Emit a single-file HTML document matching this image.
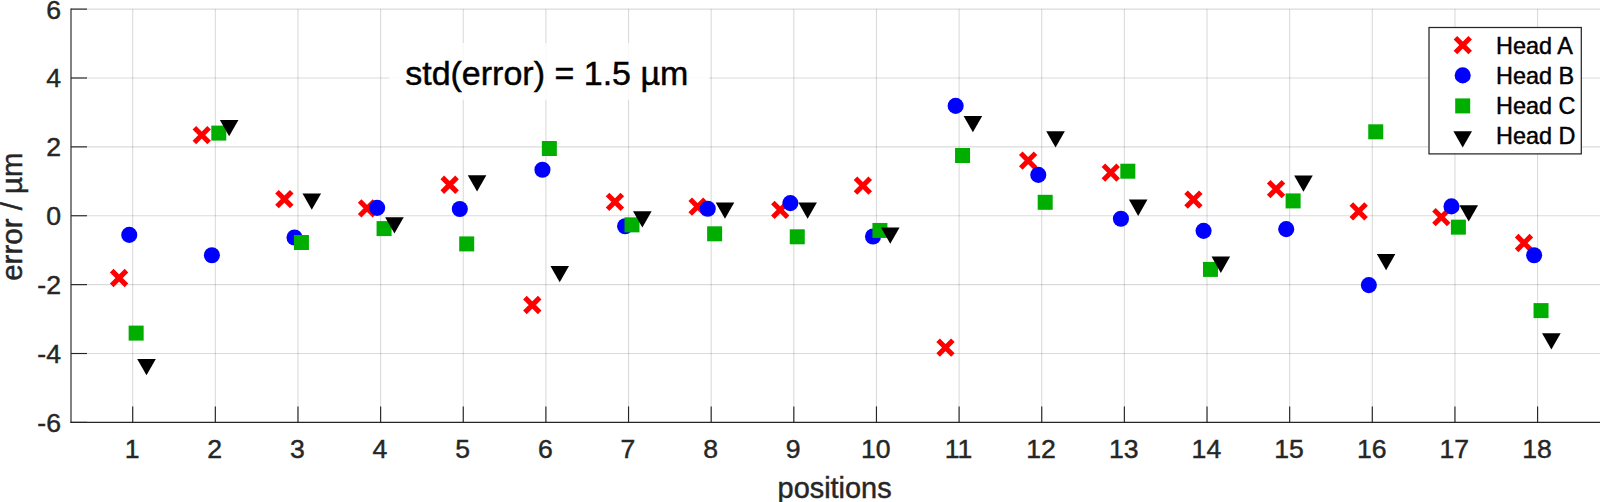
<!DOCTYPE html>
<html><head><meta charset="utf-8"><title>error plot</title>
<style>
html,body{margin:0;padding:0;background:#fff;}
body{width:1600px;height:502px;overflow:hidden;}
svg{display:block;}
text{font-family:"Liberation Sans",Arial,Helvetica,sans-serif;}
</style></head><body>
<svg width="1600" height="502" viewBox="0 0 1600 502">
<rect width="1600" height="502" fill="#fff"/>
<g stroke="#000" stroke-opacity="0.145" stroke-width="1.1" fill="none">
<line x1="132.70" y1="9.1" x2="132.70" y2="422.4"/><line x1="215.34" y1="9.1" x2="215.34" y2="422.4"/><line x1="297.98" y1="9.1" x2="297.98" y2="422.4"/><line x1="380.62" y1="9.1" x2="380.62" y2="422.4"/><line x1="463.26" y1="9.1" x2="463.26" y2="422.4"/><line x1="545.90" y1="9.1" x2="545.90" y2="422.4"/><line x1="628.54" y1="9.1" x2="628.54" y2="422.4"/><line x1="711.18" y1="9.1" x2="711.18" y2="422.4"/><line x1="793.82" y1="9.1" x2="793.82" y2="422.4"/><line x1="876.46" y1="9.1" x2="876.46" y2="422.4"/><line x1="959.10" y1="9.1" x2="959.10" y2="422.4"/><line x1="1041.74" y1="9.1" x2="1041.74" y2="422.4"/><line x1="1124.38" y1="9.1" x2="1124.38" y2="422.4"/><line x1="1207.02" y1="9.1" x2="1207.02" y2="422.4"/><line x1="1289.66" y1="9.1" x2="1289.66" y2="422.4"/><line x1="1372.30" y1="9.1" x2="1372.30" y2="422.4"/><line x1="1454.94" y1="9.1" x2="1454.94" y2="422.4"/><line x1="1537.58" y1="9.1" x2="1537.58" y2="422.4"/>
<line x1="71.0" y1="9.11" x2="1600.0" y2="9.11"/><line x1="71.0" y1="77.99" x2="1600.0" y2="77.99"/><line x1="71.0" y1="146.87" x2="1600.0" y2="146.87"/><line x1="71.0" y1="215.75" x2="1600.0" y2="215.75"/><line x1="71.0" y1="284.63" x2="1600.0" y2="284.63"/><line x1="71.0" y1="353.51" x2="1600.0" y2="353.51"/>
</g>
<rect x="389" y="43" width="320.5" height="57" fill="#fff" fill-opacity="0.8"/>
<g stroke="#262626" stroke-width="1.15" fill="none">
<line x1="71.0" y1="8.5" x2="71.0" y2="423.0"/><line x1="70.4" y1="422.4" x2="1600.0" y2="422.4"/>
<line x1="132.70" y1="422.4" x2="132.70" y2="406.4"/><line x1="215.34" y1="422.4" x2="215.34" y2="406.4"/><line x1="297.98" y1="422.4" x2="297.98" y2="406.4"/><line x1="380.62" y1="422.4" x2="380.62" y2="406.4"/><line x1="463.26" y1="422.4" x2="463.26" y2="406.4"/><line x1="545.90" y1="422.4" x2="545.90" y2="406.4"/><line x1="628.54" y1="422.4" x2="628.54" y2="406.4"/><line x1="711.18" y1="422.4" x2="711.18" y2="406.4"/><line x1="793.82" y1="422.4" x2="793.82" y2="406.4"/><line x1="876.46" y1="422.4" x2="876.46" y2="406.4"/><line x1="959.10" y1="422.4" x2="959.10" y2="406.4"/><line x1="1041.74" y1="422.4" x2="1041.74" y2="406.4"/><line x1="1124.38" y1="422.4" x2="1124.38" y2="406.4"/><line x1="1207.02" y1="422.4" x2="1207.02" y2="406.4"/><line x1="1289.66" y1="422.4" x2="1289.66" y2="406.4"/><line x1="1372.30" y1="422.4" x2="1372.30" y2="406.4"/><line x1="1454.94" y1="422.4" x2="1454.94" y2="406.4"/><line x1="1537.58" y1="422.4" x2="1537.58" y2="406.4"/>
<line x1="71.0" y1="9.11" x2="87.0" y2="9.11"/><line x1="71.0" y1="77.99" x2="87.0" y2="77.99"/><line x1="71.0" y1="146.87" x2="87.0" y2="146.87"/><line x1="71.0" y1="215.75" x2="87.0" y2="215.75"/><line x1="71.0" y1="284.63" x2="87.0" y2="284.63"/><line x1="71.0" y1="353.51" x2="87.0" y2="353.51"/><line x1="71.0" y1="422.39" x2="87.0" y2="422.39"/>
</g>
<g fill="#262626" stroke="#262626" stroke-width="0.45" font-size="26.6px" text-anchor="middle">
<text x="132.10" y="457.9">1</text><text x="214.74" y="457.9">2</text><text x="297.38" y="457.9">3</text><text x="380.02" y="457.9">4</text><text x="462.66" y="457.9">5</text><text x="545.30" y="457.9">6</text><text x="627.94" y="457.9">7</text><text x="710.58" y="457.9">8</text><text x="793.22" y="457.9">9</text><text x="875.86" y="457.9">10</text><text x="958.50" y="457.9">11</text><text x="1041.14" y="457.9">12</text><text x="1123.78" y="457.9">13</text><text x="1206.42" y="457.9">14</text><text x="1289.06" y="457.9">15</text><text x="1371.70" y="457.9">16</text><text x="1454.34" y="457.9">17</text><text x="1536.98" y="457.9">18</text>
</g>
<g fill="#262626" stroke="#262626" stroke-width="0.45" font-size="26.6px" text-anchor="end">
<text x="61" y="18.51">6</text><text x="61" y="87.39">4</text><text x="61" y="156.27">2</text><text x="61" y="225.15">0</text><text x="61" y="294.03">-2</text><text x="61" y="362.91">-4</text><text x="61" y="431.79">-6</text>
</g>
<text x="834.6" y="498.3" font-size="28.9px" fill="#262626" stroke="#262626" stroke-width="0.45" text-anchor="middle">positions</text>
<text transform="translate(21.9 216.6) rotate(-90)" font-size="29.5px" fill="#262626" stroke="#262626" stroke-width="0.45" text-anchor="middle">error / µm</text>
<text x="405.2" y="84.7" font-size="34.0px" fill="#000" stroke="#000" stroke-width="0.45">std(error) = 1.5 µm</text>
<g>
<path d="M111.72 270.62L126.48 285.38M111.72 285.38L126.48 270.62" stroke="#ff0000" stroke-width="5.05" fill="none"/><path d="M194.36 127.82L209.12 142.58M194.36 142.58L209.12 127.82" stroke="#ff0000" stroke-width="5.05" fill="none"/><path d="M277.00 191.72L291.76 206.48M277.00 206.48L291.76 191.72" stroke="#ff0000" stroke-width="5.05" fill="none"/><path d="M359.64 200.92L374.40 215.68M359.64 215.68L374.40 200.92" stroke="#ff0000" stroke-width="5.05" fill="none"/><path d="M442.28 177.37L457.04 192.13M442.28 192.13L457.04 177.37" stroke="#ff0000" stroke-width="5.05" fill="none"/><path d="M524.92 297.62L539.68 312.38M524.92 312.38L539.68 297.62" stroke="#ff0000" stroke-width="5.05" fill="none"/><path d="M607.56 194.42L622.32 209.18M607.56 209.18L622.32 194.42" stroke="#ff0000" stroke-width="5.05" fill="none"/><path d="M690.20 199.22L704.96 213.98M690.20 213.98L704.96 199.22" stroke="#ff0000" stroke-width="5.05" fill="none"/><path d="M772.84 202.42L787.60 217.18M772.84 217.18L787.60 202.42" stroke="#ff0000" stroke-width="5.05" fill="none"/><path d="M855.48 178.22L870.24 192.98M855.48 192.98L870.24 178.22" stroke="#ff0000" stroke-width="5.05" fill="none"/><path d="M938.12 340.32L952.88 355.08M938.12 355.08L952.88 340.32" stroke="#ff0000" stroke-width="5.05" fill="none"/><path d="M1020.76 153.32L1035.52 168.08M1020.76 168.08L1035.52 153.32" stroke="#ff0000" stroke-width="5.05" fill="none"/><path d="M1103.40 165.32L1118.16 180.08M1103.40 180.08L1118.16 165.32" stroke="#ff0000" stroke-width="5.05" fill="none"/><path d="M1186.04 192.32L1200.80 207.08M1186.04 207.08L1200.80 192.32" stroke="#ff0000" stroke-width="5.05" fill="none"/><path d="M1268.68 181.72L1283.44 196.48M1268.68 196.48L1283.44 181.72" stroke="#ff0000" stroke-width="5.05" fill="none"/><path d="M1351.32 203.92L1366.08 218.68M1351.32 218.68L1366.08 203.92" stroke="#ff0000" stroke-width="5.05" fill="none"/><path d="M1433.96 209.72L1448.72 224.48M1433.96 224.48L1448.72 209.72" stroke="#ff0000" stroke-width="5.05" fill="none"/><path d="M1516.60 235.62L1531.36 250.38M1516.60 250.38L1531.36 235.62" stroke="#ff0000" stroke-width="5.05" fill="none"/>
</g>
<g>
<circle cx="129.25" cy="234.90" r="8.05" fill="#0000ff"/><circle cx="211.89" cy="255.30" r="8.05" fill="#0000ff"/><circle cx="294.53" cy="237.50" r="8.05" fill="#0000ff"/><circle cx="377.17" cy="207.85" r="8.05" fill="#0000ff"/><circle cx="459.81" cy="208.95" r="8.05" fill="#0000ff"/><circle cx="542.45" cy="169.75" r="8.05" fill="#0000ff"/><circle cx="625.09" cy="226.25" r="8.05" fill="#0000ff"/><circle cx="707.73" cy="208.75" r="8.05" fill="#0000ff"/><circle cx="790.37" cy="203.10" r="8.05" fill="#0000ff"/><circle cx="873.01" cy="236.50" r="8.05" fill="#0000ff"/><circle cx="955.65" cy="105.90" r="8.05" fill="#0000ff"/><circle cx="1038.29" cy="174.90" r="8.05" fill="#0000ff"/><circle cx="1120.93" cy="218.75" r="8.05" fill="#0000ff"/><circle cx="1203.57" cy="230.85" r="8.05" fill="#0000ff"/><circle cx="1286.21" cy="229.15" r="8.05" fill="#0000ff"/><circle cx="1368.85" cy="285.10" r="8.05" fill="#0000ff"/><circle cx="1451.49" cy="206.40" r="8.05" fill="#0000ff"/><circle cx="1534.13" cy="255.20" r="8.05" fill="#0000ff"/>
</g>
<g>
<rect x="128.65" y="325.60" width="15.0" height="15.0" fill="#00ae00"/><rect x="211.29" y="125.60" width="15.0" height="15.0" fill="#00ae00"/><rect x="293.93" y="235.00" width="15.0" height="15.0" fill="#00ae00"/><rect x="376.57" y="221.10" width="15.0" height="15.0" fill="#00ae00"/><rect x="459.21" y="236.40" width="15.0" height="15.0" fill="#00ae00"/><rect x="541.85" y="141.00" width="15.0" height="15.0" fill="#00ae00"/><rect x="624.49" y="217.35" width="15.0" height="15.0" fill="#00ae00"/><rect x="707.13" y="226.30" width="15.0" height="15.0" fill="#00ae00"/><rect x="789.77" y="229.30" width="15.0" height="15.0" fill="#00ae00"/><rect x="872.41" y="222.95" width="15.0" height="15.0" fill="#00ae00"/><rect x="955.05" y="148.00" width="15.0" height="15.0" fill="#00ae00"/><rect x="1037.69" y="194.80" width="15.0" height="15.0" fill="#00ae00"/><rect x="1120.33" y="163.70" width="15.0" height="15.0" fill="#00ae00"/><rect x="1202.97" y="261.90" width="15.0" height="15.0" fill="#00ae00"/><rect x="1285.61" y="193.40" width="15.0" height="15.0" fill="#00ae00"/><rect x="1368.25" y="124.30" width="15.0" height="15.0" fill="#00ae00"/><rect x="1450.89" y="219.65" width="15.0" height="15.0" fill="#00ae00"/><rect x="1533.53" y="303.10" width="15.0" height="15.0" fill="#00ae00"/>
</g>
<g>
<path d="M137.20 359.00L155.80 359.00L146.50 375.30Z" fill="#000"/><path d="M219.84 119.95L238.44 119.95L229.14 136.25Z" fill="#000"/><path d="M302.48 193.40L321.08 193.40L311.78 209.70Z" fill="#000"/><path d="M385.12 217.20L403.72 217.20L394.42 233.50Z" fill="#000"/><path d="M467.76 175.20L486.36 175.20L477.06 191.50Z" fill="#000"/><path d="M550.40 266.00L569.00 266.00L559.70 282.30Z" fill="#000"/><path d="M633.04 211.25L651.64 211.25L642.34 227.55Z" fill="#000"/><path d="M715.68 202.40L734.28 202.40L724.98 218.70Z" fill="#000"/><path d="M798.32 202.40L816.92 202.40L807.62 218.70Z" fill="#000"/><path d="M880.96 227.50L899.56 227.50L890.26 243.80Z" fill="#000"/><path d="M963.60 116.00L982.20 116.00L972.90 132.30Z" fill="#000"/><path d="M1046.24 131.20L1064.84 131.20L1055.54 147.50Z" fill="#000"/><path d="M1128.88 199.60L1147.48 199.60L1138.18 215.90Z" fill="#000"/><path d="M1211.52 256.60L1230.12 256.60L1220.82 272.90Z" fill="#000"/><path d="M1294.16 175.40L1312.76 175.40L1303.46 191.70Z" fill="#000"/><path d="M1376.80 253.90L1395.40 253.90L1386.10 270.20Z" fill="#000"/><path d="M1459.44 205.30L1478.04 205.30L1468.74 221.60Z" fill="#000"/><path d="M1542.08 333.20L1560.68 333.20L1551.38 349.50Z" fill="#000"/>
</g>
<rect x="1429" y="27.5" width="152.3" height="126.4" fill="#fff" stroke="#262626" stroke-width="1.25"/>
<path d="M1455.42 37.72L1470.18 52.48M1455.42 52.48L1470.18 37.72" stroke="#ff0000" stroke-width="5.05" fill="none"/><circle cx="1462.70" cy="75.40" r="8.05" fill="#0000ff"/><rect x="1455.20" y="98.40" width="15.0" height="15.0" fill="#00ae00"/><path d="M1453.40 131.30L1472.00 131.30L1462.70 147.60Z" fill="#000"/>
<g fill="#000" stroke="#000" stroke-width="0.45" font-size="23.4px">
<text x="1496" y="53.5">Head A</text><text x="1496" y="83.6">Head B</text><text x="1496" y="113.6">Head C</text><text x="1496" y="143.7">Head D</text>
</g>
</svg>
</body></html>
